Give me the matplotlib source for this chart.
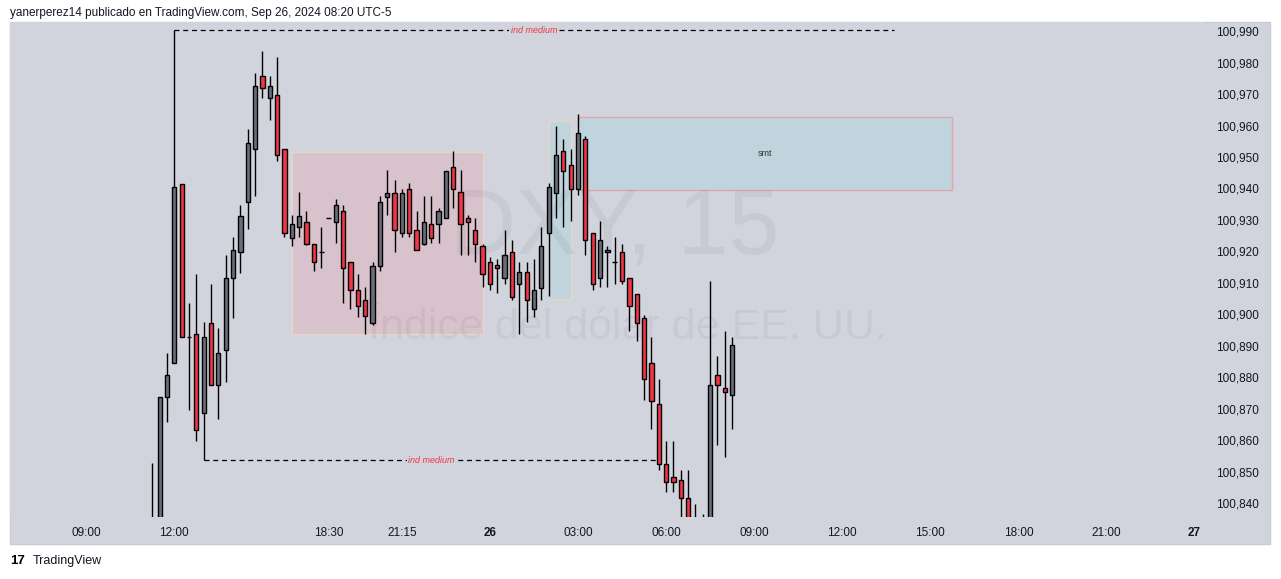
import matplotlib.pyplot as plt
from matplotlib.patches import Rectangle
import numpy as np

plt.rcParams['font.family'] = ['Liberation Sans', 'DejaVu Sans']

# 15 min candles, DXY (prices)
opens = [100.832, 100.829, 100.8736, 100.8844, 100.9415, 100.8927, 100.8936, 100.8685, 100.8974, 100.8775,
         100.8886, 100.9114, 100.9197, 100.9356, 100.9527, 100.9756, 100.9686, 100.9696, 100.9527, 100.9244,
         100.9276, 100.9295, 100.9225, 100.9197, 100.9305, 100.9295, 100.9327, 100.9165, 100.9076, 100.9044,
         100.8973, 100.9154, 100.9373, 100.9387, 100.9257, 100.9397, 100.9267, 100.9225, 100.9286, 100.9286,
         100.9305, 100.9467, 100.9388, 100.9305, 100.9267, 100.9217, 100.9165, 100.9156, 100.9114, 100.9197,
         100.9095, 100.9136, 100.9016, 100.9085, 100.9257, 100.9387, 100.9518, 100.9476, 100.9397, 100.9556,
         100.9257, 100.9114, 100.9197, 100.9165, 100.9197, 100.9114, 100.9066, 100.8987, 100.8844, 100.8714,
         100.8526, 100.8484, 100.8475, 100.8415, 100.8330, 100.8280, 100.8300, 100.8806, 100.8765, 100.8745]
highs = [100.8527, 100.8736, 100.8876, 100.9903, 100.9415, 100.9037, 100.9129, 100.8976, 100.9095, 100.8957,
         100.9188, 100.9245, 100.9347, 100.9588, 100.9766, 100.9836, 100.9757, 100.9817, 100.9527, 100.9315,
         100.9388, 100.9328, 100.9225, 100.9276, 100.9305, 100.9365, 100.9347, 100.9165, 100.9128, 100.9086,
         100.9166, 100.9376, 100.9458, 100.9426, 100.9397, 100.9418, 100.9328, 100.9376, 100.9376, 100.9337,
         100.9457, 100.9519, 100.9458, 100.9315, 100.9305, 100.9225, 100.9183, 100.9175, 100.9268, 100.9236,
         100.9167, 100.9165, 100.9175, 100.9278, 100.9418, 100.9598, 100.9556, 100.9527, 100.9636, 100.9566,
         100.9257, 100.9296, 100.9217, 100.9246, 100.9225, 100.9114, 100.9066, 100.8997, 100.8929, 100.8796,
         100.8597, 100.8597, 100.8505, 100.8505, 100.8396, 100.8364, 100.9106, 100.8867, 100.8947, 100.8929]
lows = [100.826, 100.827, 100.8658, 100.8844, 100.8927, 100.8696, 100.8597, 100.8537, 100.8775, 100.8669,
        100.8786, 100.8989, 100.9130, 100.9270, 100.9377, 100.9688, 100.9617, 100.9488, 100.9246, 100.9218,
        100.9246, 100.9219, 100.9138, 100.9148, 100.9305, 100.9227, 100.9037, 100.9017, 100.8990, 100.8939,
        100.8966, 100.9138, 100.9315, 100.9199, 100.9246, 100.9246, 100.9206, 100.9219, 100.9228, 100.9228,
        100.9305, 100.9338, 100.9188, 100.9188, 100.9167, 100.9087, 100.9077, 100.9068, 100.9096, 100.9045,
        100.8939, 100.8976, 100.8990, 100.9045, 100.9059, 100.9307, 100.9278, 100.9297, 100.9379, 100.9188,
        100.9077, 100.9087, 100.9087, 100.9096, 100.9098, 100.8948, 100.8916, 100.8727, 100.8635, 100.8505,
        100.8436, 100.8436, 100.8300, 100.8260, 100.8220, 100.8200, 100.8280, 100.8584, 100.8547, 100.8635]
closes = [100.830, 100.8736, 100.8807, 100.9406, 100.8927, 100.8927, 100.8634, 100.8927, 100.8775, 100.8876,
          100.9114, 100.9206, 100.9314, 100.9546, 100.9727, 100.9718, 100.9727, 100.9505, 100.9257, 100.9286,
          100.9314, 100.9224, 100.9165, 100.9197, 100.9305, 100.9346, 100.9146, 100.9076, 100.9025, 100.8996,
          100.9155, 100.9356, 100.9387, 100.9267, 100.9387, 100.9257, 100.9206, 100.9295, 100.9244, 100.9327,
          100.9457, 100.9397, 100.9286, 100.9294, 100.9224, 100.9127, 100.9095, 100.9146, 100.9187, 100.9056,
          100.9136, 100.9044, 100.9076, 100.9217, 100.9406, 100.9505, 100.9457, 100.9397, 100.9575, 100.9235,
          100.9095, 100.9235, 100.9206, 100.9165, 100.9105, 100.9026, 100.8974, 100.8796, 100.8726, 100.8526,
          100.8466, 100.8466, 100.8415, 100.8300, 100.8250, 100.8300, 100.8775, 100.8774, 100.8754, 100.8904]

time_ticks = [-9, 3, 24, 34, 46, 58, 70, 82, 94, 106, 118, 130, 142]
time_labels = ['09:00', '12:00', '18:30', '21:15', '26', '03:00', '06:00', '09:00', '12:00', '15:00', '18:00', '21:00', '27']
price_ticks = [100.84, 100.85, 100.86, 100.87, 100.88, 100.89, 100.90, 100.91, 100.92, 100.93, 100.94, 100.95, 100.96, 100.97, 100.98, 100.99]

# drawings: (start bar, end bar, price)
ind_top = (3, 101, 100.9903)
ind_bottom = (7, 69, 100.8537)
pink_box = (19, 45, 100.8937, 100.9515)
blue_box = (54, 57, 100.9048, 100.9614)
smt_box = (58, 109, 100.9395, 100.9627)

bg = '#d1d4dc'
gray = '#6b6e7a'
red = '#f23645'
txt = '#131722'

W, H = 1281, 579
fig = plt.figure(figsize=(W / 100, H / 100), dpi=100)
fig.patch.set_facecolor('white')
fig.patches.append(Rectangle((10 / W, 1 - 544 / H), 1260 / W, 522 / H, transform=fig.transFigure,
                             facecolor=bg, edgecolor='#c8cbd3', lw=1, zorder=-1))

L, R, T, B = 10, 1205, 22, 517
ax = fig.add_axes([L / W, 1 - B / H, (R - L) / W, (B - T) / H])
ax.set_zorder(1)
ax.set_facecolor(bg)

# bar spacing 7.34 px, bar 0 at x=152.3
ax.set_xlim((L - 152.3) / 7.34, (R - 152.3) / 7.34)
ax.set_ylim(100.8356, 100.9929)

# watermark
ax.text(0.506, 0.58, 'DXY, 15', transform=ax.transAxes, fontsize=66, color='black', alpha=0.045,
        ha='center', va='center', zorder=2)
ax.text(0.517, 0.382, 'Índice del dólar de EE. UU.', transform=ax.transAxes, fontsize=31, color='black',
        alpha=0.045, ha='center', va='center', zorder=2)

# boxes
x0, x1, y0, y1 = pink_box
ax.add_patch(Rectangle((x0, y0), x1 - x0, y1 - y0, facecolor='#d8c2cb', edgecolor='#e6d6c6', lw=1, zorder=1))
x0, x1, y0, y1 = blue_box
ax.add_patch(Rectangle((x0, y0), x1 - x0, y1 - y0, facecolor='#bfd4dd', edgecolor='#e6d6c6', lw=1, zorder=1))
x0, x1, y0, y1 = smt_box
ax.add_patch(Rectangle((x0, y0), x1 - x0, y1 - y0, facecolor='#bfd4dd', edgecolor='#e8a2aa', lw=1, zorder=1))
ax.text((x0 + x1) / 2, (y0 + y1) / 2, 'smt', fontsize=6.5, color='#333', ha='center', va='center', zorder=5)

# candles
o = np.array(opens)
h = np.array(highs)
l = np.array(lows)
c = np.array(closes)
x = np.arange(len(o))
ax.vlines(x, l, h, color='black', lw=1, zorder=3)
body_lo = np.minimum(o, c)
body_h = np.abs(c - o)
cols = [gray if cc >= oo else red for oo, cc in zip(o, c)]
big = body_h > 0.0002
ax.bar(x[big], body_h[big], bottom=body_lo[big], width=0.58, color=np.array(cols)[big],
       edgecolor='black', lw=1, zorder=4)
ax.hlines(o[~big], x[~big] - 0.33, x[~big] + 0.33, color='black', lw=1, zorder=4)

# ind medium lines
for xa, xb, p in (ind_top, ind_bottom):
    ax.hlines(p, xa, xb, colors='black', linestyles=(0, (4, 3)), lw=0.9, zorder=3)
    ax.text((xa + xb) / 2, p, 'ind medium', color=red, fontsize=6.5, style='italic', ha='center', va='center',
            zorder=5, bbox=dict(facecolor=bg, edgecolor='none', pad=1))

# axes
for s in ax.spines.values():
    s.set_visible(False)
ax.set_xticks(time_ticks)
ax.set_xticklabels(time_labels)
for lab in ax.get_xticklabels():
    if lab.get_text() in ('26', '27'):
        lab.set_fontweight('bold')
ax.yaxis.tick_right()
ax.set_yticks(price_ticks)
ax.set_yticklabels([f'{p:.3f}'.replace('.', ',') for p in price_ticks])
ax.tick_params(axis='x', length=0, pad=7, labelsize=8.5, labelcolor=txt)
ax.tick_params(axis='y', length=0, pad=8, labelsize=8.5, labelcolor=txt)

fig.text(10 / W, 1 - 13 / H, 'yanerperez14 publicado en TradingView.com, Sep 26, 2024 08:20 UTC-5',
         fontsize=8.5, color=txt, va='center')
fig.text(10 / W, 1 - 561 / H, '17', fontsize=9.5, fontweight='bold', color='black', va='center')
fig.text(33 / W, 1 - 561 / H, 'TradingView', fontsize=9, color=txt, va='center')

plt.savefig('out.png', dpi=100)
